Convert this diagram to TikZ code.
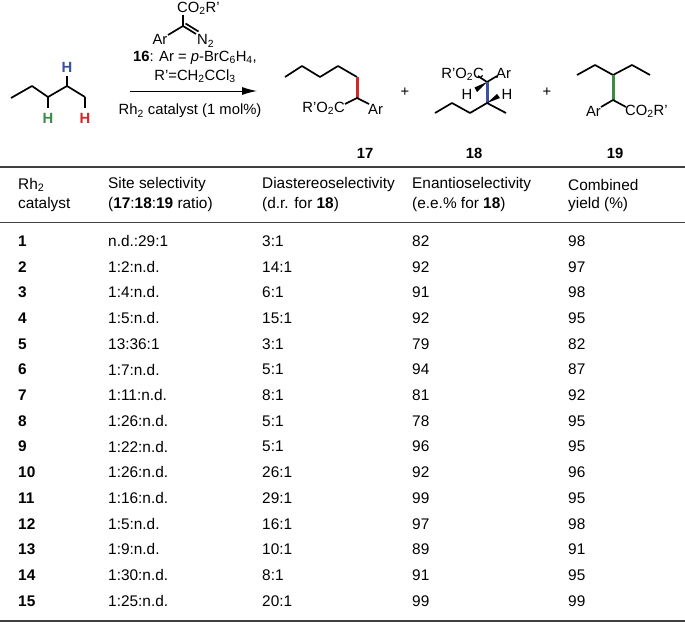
\documentclass[tikz,border=0pt]{standalone}
\usepackage{fontspec}
\setmainfont{Liberation Sans}
\usetikzlibrary{arrows.meta}
\begin{document}
\begin{tikzpicture}[x=1pt,y=-1pt,
  bond/.style={line width=1.7pt,line join=round},
  lab/.style={inner sep=0pt,font=\fontsize{14.8}{16}\selectfont},
  cell/.style={inner sep=0pt,anchor=west,font=\fontsize{15.4}{17}\selectfont},
  rule/.style={line width=0.8pt,color=black!75}]
\definecolor{hb}{RGB}{60,80,160}
\definecolor{hg}{RGB}{60,140,70}
\definecolor{hr}{RGB}{210,40,40}
\useasboundingbox (0,0) rectangle (685,626);
% substrate
\draw[bond] (11,98)--(32,86)--(48,97)--(67,86)--(85,97);
\draw[bond] (67,86)--(67,76);
\draw[bond] (48,97)--(48,108);
\draw[bond] (85,97)--(85,108);
\node[lab,text=hb,font=\fontsize{14.8}{16}\selectfont\bfseries] (hB) at (67,67) {H};
\node[lab,text=hg,font=\fontsize{14.8}{16}\selectfont\bfseries] (hG) at (48,118) {H};
\node[lab,text=hr,font=\fontsize{14.8}{16}\selectfont\bfseries] (hR) at (85,118) {H};
% reagent
\node[lab,anchor=north west] (co) at (177,1.5) {CO\textsubscript{2}R’};
\draw[bond] (183,15)--(183,26);
\draw[bond] (183,26)--(168,35);
\draw[bond] (183,26)--(196,34);
\draw[bond] (185.5,23.5)--(198.5,31.5);
\node[lab] (ar0) at (160,39) {Ar};
\node[lab,anchor=west] (n2) at (197,41) {N\textsubscript{2}};
\node[lab] (l16) at (195,58) {\textbf{16}: Ar = \textit{p}-BrC\textsubscript{6}H\textsubscript{4},};
\node[lab] (l16b) at (195,76) {R’=CH\textsubscript{2}CCl\textsubscript{3}};
\coordinate (a1) at (130,91); \coordinate (a2) at (257,91);
\draw[line width=1pt,-{Latex[length=15pt,width=8pt]}] (a1)--(a2);
\node[lab] (cat) at (190,111) {Rh\textsubscript{2} catalyst (1 mol\%)};
% product 17
\draw[bond] (285,77)--(302,66)--(320,77)--(338,66)--(357,77);
\draw[bond,color=hr,line width=3pt] (357,77)--(357,98);
\draw[bond] (345,104)--(357,98)--(369,104);
\node[lab,anchor=east] (e17) at (345,108) {R’O\textsubscript{2}C};
\node[lab,anchor=west] (ar17) at (368,109) {Ar};
\node[lab] (p1) at (405,92) {+};
% product 18
\node[lab,anchor=east] (e18) at (484,74) {R’O\textsubscript{2}C};
\draw[bond] (478,76)--(487,82)--(497,76);
\node[lab,anchor=west] (ar18) at (496,73) {Ar};
\fill (487,82)--(474.5,87.5)--(477,92)--cycle;
\node[lab] (h18a) at (467,94) {H};
\draw[bond,color=hb,line width=3pt] (487,82)--(487,103);
\fill (487,103)--(497,94)--(500,98)--cycle;
\node[lab] (h18b) at (507,94) {H};
\draw[bond] (435,113)--(452,103)--(470,113)--(487,103)--(506,113);
\node[lab] (p2) at (547,92) {+};
% product 19
\draw[bond] (577,75)--(595,65)--(613,75)--(632,65)--(650,75);
\draw[bond,color=hg,line width=3pt] (613,75)--(613,100);
\draw[bond] (601,107)--(613,100)--(626,107);
\node[lab,anchor=east] (ar19) at (601,111) {Ar};
\node[lab,anchor=west] (e19) at (625,111) {CO\textsubscript{2}R’};
% labels
\node[lab,font=\fontsize{14.8}{16}\selectfont\bfseries] (n17) at (365,153) {17};
\node[lab,font=\fontsize{14.8}{16}\selectfont\bfseries] (n18) at (474,153) {18};
\node[lab,font=\fontsize{14.8}{16}\selectfont\bfseries] (n19) at (615,153) {19};
% table rules
\coordinate (t1) at (0,167); \coordinate (t2) at (685,167);
\coordinate (m1) at (0,222); \coordinate (m2) at (685,222);
\coordinate (b1) at (0,621); \coordinate (b2) at (685,621);
\draw[rule,line width=1.6pt] (t1)--(t2);
\draw[rule] (m1)--(m2);
\draw[rule,line width=1.6pt] (b1)--(b2);
% header
\node[cell] (h1a) at (18,185) {Rh\textsubscript{2}};
\node[cell] (h1b) at (18,205) {catalyst};
\node[cell] (h2a) at (108,185) {Site selectivity};
\node[cell] (h2b) at (108,205) {(\textbf{17}:\textbf{18}:\textbf{19} ratio)};
\node[cell] (h3a) at (262,185) {Diastereoselectivity};
\node[cell] (h3b) at (262,205) {(d.r. for \textbf{18})};
\node[cell] (h4a) at (412,185) {Enantioselectivity};
\node[cell] (h4b) at (412,205) {(e.e.\% for \textbf{18})};
\node[cell] (h5a) at (568,185) {Combined};
\node[cell] (h5b) at (568,205) {yield (\%)};
% rows
\foreach \n/\s/\d/\e/\y [count=\i from 0] in {
 1/n.d.:29:1/3:1/82/98, 2/1:2:n.d./14:1/92/97, 3/1:4:n.d./6:1/91/98,
 4/1:5:n.d./15:1/92/95, 5/13:36:1/3:1/79/82, 6/1:7:n.d./5:1/94/87,
 7/1:11:n.d./8:1/81/92, 8/1:26:n.d./5:1/78/95, 9/1:22:n.d./5:1/96/95,
 10/1:26:n.d./26:1/92/96, 11/1:16:n.d./29:1/99/95, 12/1:5:n.d./16:1/97/98,
 13/1:9:n.d./10:1/89/91, 14/1:30:n.d./8:1/91/95, 15/1:25:n.d./20:1/99/99}{
  \pgfmathsetmacro\yy{241+\i*25.7}
  \node[cell,font=\fontsize{15.4}{17}\selectfont\bfseries] (c1-\i) at (18,\yy) {\n};
  \node[cell] (c2-\i) at (108,\yy) {\s};
  \node[cell] (c3-\i) at (262,\yy) {\d};
  \node[cell] (c4-\i) at (412,\yy) {\e};
  \node[cell] (c5-\i) at (568,\yy) {\y};
}
\end{tikzpicture}
\end{document}
